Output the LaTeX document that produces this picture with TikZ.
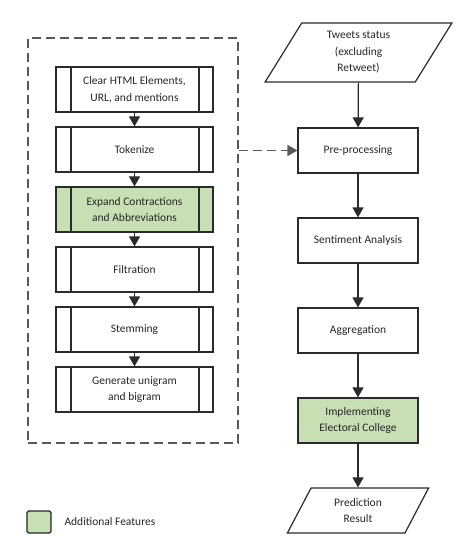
\documentclass[tikz,border=0pt]{standalone}
\usepackage{fontspec}
\setmainfont{Carlito}
\usetikzlibrary{arrows.meta,shapes,positioning}
\definecolor{addgreen}{HTML}{C6E0B4}
\definecolor{linegray}{HTML}{2B2B2B}
\definecolor{dashgray}{HTML}{595959}
\tikzstyle{proc} = [rectangle, draw=linegray, line width=1.2pt, align=center,
    minimum width=157pt, minimum height=45pt, inner sep=0pt,
    path picture={\draw[-,linegray,line width=1.2pt]
      ([xshift=15pt]path picture bounding box.north west) --
      ([xshift=15pt]path picture bounding box.south west)
      ([xshift=-14pt]path picture bounding box.north east) --
      ([xshift=-14pt]path picture bounding box.south east);}]
\tikzstyle{block} = [rectangle, draw=linegray, line width=1.2pt, align=center,
    minimum width=120pt, minimum height=45pt, inner sep=0pt]
\tikzstyle{io} = [trapezium, trapezium left angle=64, trapezium right angle=116,
    trapezium stretches=true, draw=linegray, line width=1.2pt, align=center, inner sep=0pt]
\tikzstyle{extra} = [fill=addgreen]

\begin{document}
\begin{tikzpicture}[->,>={Triangle[length=10pt,width=11pt]},line width=1.2pt,draw=linegray,
                    x=1pt,y=1pt,font=\fontsize{11.5pt}{16.5pt}\selectfont,
                    text=black!85]
  \useasboundingbox (0,0) rectangle (474,-553);

  % pre-processing steps
  \node[rectangle, draw=dashgray, dash pattern=on 9pt off 5pt, line width=1.2pt,
        minimum width=210pt, minimum height=405pt] (prep) at (133,-240.5) {};
  \node[proc]                  (c1) at (134.5,-89.5) {Clear HTML Elements,\\URL, and mentions};
  \node[proc,node distance=60pt] (c2) [below of=c1] {Tokenize};
  \node[proc,extra,node distance=60pt] (c3) [below of=c2] {Expand Contractions\\and Abbreviations};
  \node[proc,node distance=60pt] (c4) [below of=c3] {Filtration};
  \node[proc,node distance=60pt] (c5) [below of=c4] {Stemming};
  \node[proc,node distance=60pt] (c6) [below of=c5] {Generate unigram\\and bigram};

  % main flow
  \node[io,minimum width=187pt,minimum height=59pt] (tw) at (358.5,-52.5) {Tweets status\\(excluding\\Retweet)};
  \node[block,node distance=98pt]      (pre)  [below of=tw, xshift=-0.5pt] {Pre-processing};
  \node[block,node distance=90pt]      (sent) [below of=pre] {Sentiment Analysis};
  \node[block,node distance=90pt]      (agg)  [below of=sent] {Aggregation};
  \node[block,extra,node distance=90pt] (impl) [below of=agg] {Implementing\\Electoral College};
  \node[io,minimum width=142pt,minimum height=45pt,node distance=90pt] (pred) [below of=impl] {Prediction\\Result};

  % legend
  \node[rectangle, draw=linegray!70!addgreen!40!black, fill=addgreen, rounded corners=1.5pt,
        line width=1.2pt, minimum width=24pt, minimum height=22pt] (key) at (39,-522) {};
  \node[right=9pt of key] (keytext) {Additional Features};

  \path (c1) edge (c2)
  (c2) edge (c3)
  (c3) edge (c4)
  (c4) edge (c5)
  (c5) edge (c6);

  \path (tw) edge (pre)
  (pre) edge (sent)
  (sent) edge (agg)
  (agg) edge (impl)
  (impl) edge (pred);

  \draw[dashgray, dash pattern=on 9pt off 5pt, line width=1.2pt] (prep.east |- pre) -- (pre);
\end{tikzpicture}
\end{document}
